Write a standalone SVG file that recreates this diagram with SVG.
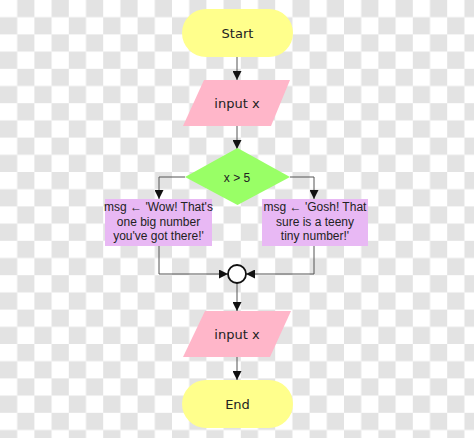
<svg xmlns="http://www.w3.org/2000/svg" width="474" height="438" viewBox="0 0 474 438">
<defs>
<pattern id="checker" x="0" y="0" width="34.4" height="34.4" patternUnits="userSpaceOnUse">
<rect width="34.4" height="34.4" fill="#ffffff"/>
<rect x="17.2" y="0" width="17.2" height="17.2" fill="#e3e3e3"/>
<rect x="0" y="17.2" width="17.2" height="17.2" fill="#e3e3e3"/>
</pattern>
<marker id="arr" viewBox="0 0 10 10" refX="10" refY="5" markerWidth="9" markerHeight="9" markerUnits="userSpaceOnUse" orient="auto">
<path d="M0,0 L10,5 L0,10 z" fill="#111"/>
</marker>
</defs>
<style>
.term{fill:#ffff8c;stroke:none}
.io{fill:#ffb6c9;stroke:none}
.dec{fill:#99ff66;stroke:none}
.proc{fill:#e8b8f4;stroke:none}
.lbl{font-family:"DejaVu Sans",sans-serif;font-size:13px;fill:#222;text-anchor:middle;dominant-baseline:central}
.txt{font-family:"Liberation Sans",Arial,sans-serif;font-size:12px;fill:#222;text-anchor:middle}
.conn{fill:none;stroke:#555;stroke-width:1}
</style>
<rect width="474" height="438" fill="url(#checker)"/>
<g id="connectors">
<path class="conn" d="M237,57 V80" marker-end="url(#arr)"/>
<path class="conn" d="M237,126 V149" marker-end="url(#arr)"/>
<path class="conn" d="M185,177 H159 V199" marker-end="url(#arr)"/>
<path class="conn" d="M290,177 H314 V199" marker-end="url(#arr)"/>
<path class="conn" d="M159,246 V274 H228" marker-end="url(#arr)"/>
<path class="conn" d="M314,246 V274 H246" marker-end="url(#arr)"/>
<path class="conn" d="M237,283 V311" marker-end="url(#arr)"/>
<path class="conn" d="M237,357 V380" marker-end="url(#arr)"/>
</g>
<g id="start">
<rect class="term" x="182" y="9" width="111" height="48" rx="24" ry="24"/>
<text class="lbl" x="237.5" y="33">Start</text>
</g>
<g id="input1">
<polygon class="io" points="204,80 290,80 271,126 183,126"/>
<text class="lbl" x="237" y="103">input x</text>
</g>
<g id="decision">
<polygon class="dec" points="237.5,148 290,177 237.5,205 185,177"/>
<text class="txt" x="237" y="181.5">x &gt; 5</text>
</g>
<g id="procLeft">
<rect class="proc" x="105" y="199" width="107" height="47"/>
<text class="txt" x="158.5" y="211">msg ← 'Wow! That's</text>
<text class="txt" x="158.5" y="225.5">one big number</text>
<text class="txt" x="158.5" y="240">you've got there!'</text>
</g>
<g id="procRight">
<rect class="proc" x="262" y="199" width="106" height="47"/>
<text class="txt" x="315" y="211">msg ← 'Gosh! That</text>
<text class="txt" x="315" y="225.5">sure is a teeny</text>
<text class="txt" x="315" y="240">tiny number!'</text>
</g>
<g id="join">
<circle cx="237" cy="274" r="9" fill="#ffffff" stroke="#111" stroke-width="1.8"/>
</g>
<g id="input2">
<polygon class="io" points="205,311 291,311 270,357 183,357"/>
<text class="lbl" x="237" y="334">input x</text>
</g>
<g id="end">
<rect class="term" x="182" y="380" width="111" height="48" rx="24" ry="24"/>
<text class="lbl" x="237.5" y="404">End</text>
</g>
</svg>
